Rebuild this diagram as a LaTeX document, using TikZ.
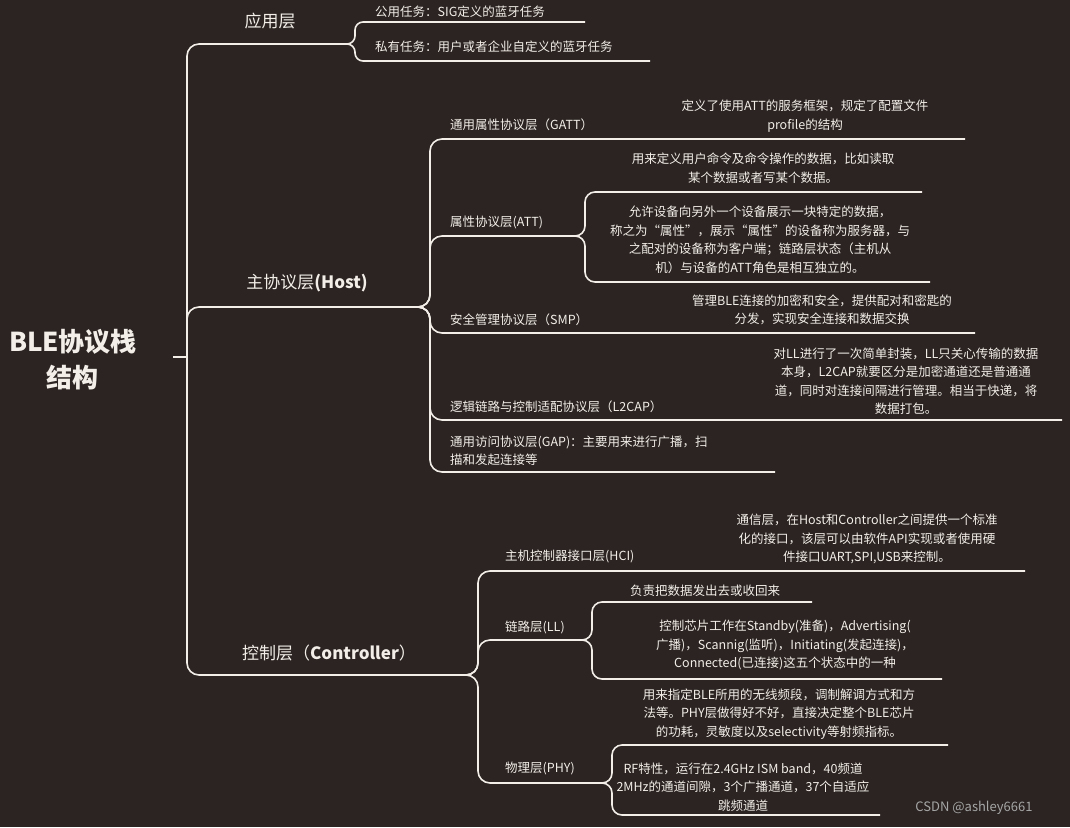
\documentclass[tikz,border=0pt]{standalone}
\usepackage{fontspec}
\setmainfont{Noto Sans CJK SC}
\definecolor{bg}{HTML}{2B2422}
\definecolor{ln}{HTML}{F3EEE8}
\begin{document}
\begin{tikzpicture}[x=1pt,y=-1pt,
  br/.style={draw=ln,line width=1.6pt,rounded corners=12pt},
  tx/.style={text=ln,font=\fontsize{12.5}{18.5}\selectfont,inner sep=0pt,align=center},
  hd/.style={text=ln,font=\fontsize{17}{20}\selectfont,inner sep=0pt}]
\fill[bg] (0,0) rectangle (1070,827);
\useasboundingbox (0,0) rectangle (1070,827);
% root
\node[text=ln,font=\fontsize{26}{36}\selectfont\bfseries,align=center] (root) at (73,360) {BLE协议栈\\结构};
\coordinate (r0) at (173,357);
% level 1
\coordinate (a0) at (345,44);
\coordinate (h0) at (395,307);
\coordinate (c0) at (420,675);
\draw[draw=ln,line width=1.6pt] (r0) -- (187,357);
\draw[br] (187,357) |- (a0);
\draw[br] (187,357) |- (h0);
\draw[br] (187,357) |- (c0);
\node[hd] (app) at (270,21) {应用层};
\node[hd] (host) at (307,283) {主协议层\textbf{(Host)}};
\node[hd] (ctl) at (329,653) {控制层（\textbf{Controller}）};
% app children
\coordinate (a1) at (585,22); \coordinate (a2) at (650,61);
\draw[br,rounded corners=8pt] (a0) -- (355,44) |- (a1);
\draw[br,rounded corners=8pt] (a0) -- (355,44) |- (a2);
\node[tx,anchor=west] (t1) at (375,12) {公用任务：SIG定义的蓝牙任务};
\node[tx,anchor=west] (t2) at (375,47) {私有任务：用户或者企业自定义的蓝牙任务};
% host children
\coordinate (g1) at (965,139); \coordinate (att) at (570,236);
\coordinate (s1) at (975,333); \coordinate (l1) at (1062,420); \coordinate (gp) at (775,472);
\foreach \p in {g1,att,s1,l1,gp} \draw[br] (h0) -- (430,307) |- (\p);
\node[tx,anchor=west] (gatt) at (450,125) {通用属性协议层（GATT）};
\node[tx] (gattc) at (805,116) {定义了使用ATT的服务框架，规定了配置文件\\profile的结构};
\node[tx,anchor=west] (attn) at (450,222) {属性协议层(ATT)};
\coordinate (at1) at (922,192); \coordinate (at2) at (930,282);
\draw[br,rounded corners=10pt] (att) -- (585,236) |- (at1);
\draw[br,rounded corners=10pt] (att) -- (585,236) |- (at2);
\node[tx] (attc1) at (763,168) {用来定义用户命令及命令操作的数据，比如读取\\某个数据或者写某个数据。};
\node[tx] (attc2) at (760,240) {允许设备向另外一个设备展示一块特定的数据，\\称之为“属性”，展示“属性”的设备称为服务器，与\\之配对的设备称为客户端；链路层状态（主机从\\机）与设备的ATT角色是相互独立的。};
\node[tx,anchor=west] (smp) at (450,320) {安全管理协议层（SMP）};
\node[tx] (smpc) at (822,310) {管理BLE连接的加密和安全，提供配对和密匙的\\分发，实现安全连接和数据交换};
\node[tx,anchor=west] (l2) at (450,407) {逻辑链路与控制适配协议层（L2CAP）};
\node[tx] (l2c) at (906,381) {对LL进行了一次简单封装，LL只关心传输的数据\\本身，L2CAP就要区分是加密通道还是普通通\\道，同时对连接间隔进行管理。相当于快递，将\\数据打包。};
\node[tx,align=left,anchor=west] (gap) at (450,451) {通用访问协议层(GAP)：主要用来进行广播，扫\\描和发起连接等};
% controller children
\coordinate (hc) at (1025,571); \coordinate (ll) at (580,640); \coordinate (ph) at (600,783);
\foreach \p in {hc,ll,ph} \draw[br] (c0) -- (478,675) |- (\p);
\node[tx,anchor=west] (hci) at (505,556) {主机控制器接口层(HCI)};
\node[tx] (hcic) at (867,539) {通信层，在Host和Controller之间提供一个标准\\化的接口，该层可以由软件API实现或者使用硬\\件接口UART,SPI,USB来控制。};
\node[tx,anchor=west] (lln) at (505,627) {链路层(LL)};
\coordinate (ll1) at (812,602); \coordinate (ll2) at (942,679);
\draw[br,rounded corners=10pt] (ll) -- (592,640) |- (ll1);
\draw[br,rounded corners=10pt] (ll) -- (592,640) |- (ll2);
\node[tx] (llc1) at (705,591) {负责把数据发出去或收回来};
\node[tx] (llc2) at (785,645) {控制芯片工作在Standby(准备)，Advertising(\\广播)，Scannig(监听)，Initiating(发起连接)，\\Connected(已连接)这五个状态中的一种};
\node[tx,anchor=west] (phy) at (505,768) {物理层(PHY)};
\coordinate (p1) at (948,745); \coordinate (p2) at (880,815);
\draw[br,rounded corners=10pt] (ph) -- (612,783) |- (p1);
\draw[br,rounded corners=10pt] (ph) -- (612,783) |- (p2);
\node[tx] (phc1) at (779,714) {用来指定BLE所用的无线频段，调制解调方式和方\\法等。PHY层做得好不好，直接决定整个BLE芯片\\的功耗，灵敏度以及selectivity等射频指标。};
\node[tx] (phc2) at (743,787) {RF特性，运行在2.4GHz ISM band，40频道\\2MHz的通道间隙，3个广播通道，37个自适应\\跳频通道};
\node[text=gray!70,font=\fontsize{13}{15}\selectfont,inner sep=0pt] (wm) at (974,808) {CSDN @ashley6661};
\end{tikzpicture}
\end{document}
